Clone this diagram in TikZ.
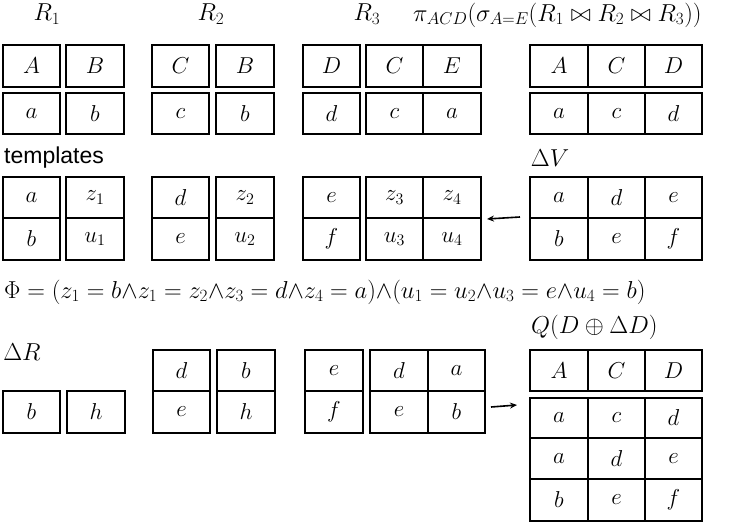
\RequirePackage{fix-cm}
\documentclass[tikz,border=0pt]{standalone}
\usepackage{amsmath,amssymb}
\usepackage{fontspec}
\setsansfont{Liberation Sans}
\usetikzlibrary{arrows.meta}
\newcommand\cellbox[6]{%
  \node[cellst, minimum width={(#4)-(#2)}, minimum height={(#5)-(#3)}] (#1) at ({((#2)+(#4))/2},{((#3)+(#5))/2}) {$#6$};}
\tikzset{
  cellst/.style={draw, line width=1.7pt, inner sep=0pt, font=\fontsize{23}{26}\selectfont},
  lbl/.style={inner sep=0pt, font=\fontsize{24.5}{28}\selectfont},
  arr/.style={-{Stealth[length=7pt,width=6pt]}, line width=1.6pt}
}
\begin{document}
\begin{tikzpicture}[x=1pt,y=-1pt]
\useasboundingbox (0,0) rectangle (740,523);
% labels
\node[lbl] (lr1) at (47,14) {$R_1$};
\node[lbl] (lr2) at (211,14) {$R_2$};
\node[lbl] (lr3) at (367,14) {$R_3$};
\node[lbl, anchor=west] (lpi) at (413,15) {$\pi_{ACD}(\sigma_{A=E}(R_1\bowtie R_2\bowtie R_3))$};
\node[lbl, anchor=west, font=\sffamily\fontsize{23}{26}\selectfont] (ltp) at (4,158) {templates};
\node[lbl] (ldv) at (550,158) {$\Delta V$};
\node[lbl, anchor=west] (lphi) at (4,292) {$\Phi=(z_1=b{\wedge}z_1=z_2{\wedge}z_3=d{\wedge}z_4=a){\wedge}(u_1=u_2{\wedge}u_3=e{\wedge}u_4=b)$};
\node[lbl] (ldr) at (22,352) {$\Delta R$};
\node[lbl, anchor=west] (lq) at (531,327) {$Q(D\oplus\Delta D)$};
% top relations
\cellbox{a1}{3}{45}{60}{87}{A}
\cellbox{a2}{66}{45}{124}{87}{B}
\cellbox{a3}{3}{93}{60}{134}{a}
\cellbox{a4}{66}{93}{124}{134}{b}
\cellbox{b1}{152}{45}{209}{87}{C}
\cellbox{b2}{216}{45}{274}{87}{B}
\cellbox{b3}{152}{93}{209}{134}{c}
\cellbox{b4}{216}{93}{274}{134}{b}
\cellbox{c1}{303}{45}{360}{87}{D}
\cellbox{c2}{366}{45}{423}{87}{C}
\cellbox{c3}{423}{45}{481}{87}{E}
\cellbox{c4}{303}{93}{360}{134}{d}
\cellbox{c5}{366}{93}{423}{134}{c}
\cellbox{c6}{423}{93}{481}{134}{a}
\cellbox{r1}{530}{45}{588}{87}{A}
\cellbox{r2}{588}{45}{645}{87}{C}
\cellbox{r3}{645}{45}{702}{87}{D}
\cellbox{r4}{530}{93}{588}{134}{a}
\cellbox{r5}{588}{93}{645}{134}{c}
\cellbox{r6}{645}{93}{702}{134}{d}
% templates
\cellbox{t1}{3}{177}{60}{218}{a}
\cellbox{t2}{3}{218}{60}{260}{b}
\cellbox{t3}{66}{177}{124}{218}{z_1}
\cellbox{t4}{66}{218}{124}{260}{u_1}
\cellbox{t5}{152}{177}{209}{218}{d}
\cellbox{t6}{152}{218}{209}{260}{e}
\cellbox{t7}{216}{177}{274}{218}{z_2}
\cellbox{t8}{216}{218}{274}{260}{u_2}
\cellbox{t9}{303}{177}{360}{218}{e}
\cellbox{t10}{303}{218}{360}{260}{f}
\cellbox{t11}{366}{177}{423}{218}{z_3}
\cellbox{t12}{366}{218}{423}{260}{u_3}
\cellbox{t13}{423}{177}{481}{218}{z_4}
\cellbox{t14}{423}{218}{481}{260}{u_4}
\cellbox{v1}{530}{177}{588}{218}{a}
\cellbox{v2}{588}{177}{645}{218}{d}
\cellbox{v3}{645}{177}{702}{218}{e}
\cellbox{v4}{530}{218}{588}{260}{b}
\cellbox{v5}{588}{218}{645}{260}{e}
\cellbox{v6}{645}{218}{702}{260}{f}
\coordinate (va) at (520,217);
\coordinate (vb) at (487,219);
\draw[arr] (va) -- (vb);
% bottom
\cellbox{d1}{3}{391}{60}{433}{b}
\cellbox{d2}{67}{391}{125}{433}{h}
\cellbox{e1}{153}{350}{210}{391}{d}
\cellbox{e2}{153}{391}{210}{433}{e}
\cellbox{e3}{217}{350}{275}{391}{b}
\cellbox{e4}{217}{391}{275}{433}{h}
\cellbox{f1}{305}{350}{363}{391}{e}
\cellbox{f2}{305}{391}{363}{433}{f}
\cellbox{f3}{370}{350}{428}{391}{d}
\cellbox{f4}{370}{391}{428}{433}{e}
\cellbox{f5}{428}{350}{485}{391}{a}
\cellbox{f6}{428}{391}{485}{433}{b}
\cellbox{q1}{530}{350}{588}{391}{A}
\cellbox{q2}{588}{350}{645}{391}{C}
\cellbox{q3}{645}{350}{702}{391}{D}
\cellbox{q4}{530}{398}{588}{438}{a}
\cellbox{q5}{588}{398}{645}{438}{c}
\cellbox{q6}{645}{398}{702}{438}{d}
\cellbox{q7}{530}{438}{588}{479}{a}
\cellbox{q8}{588}{438}{645}{479}{d}
\cellbox{q9}{645}{438}{702}{479}{e}
\cellbox{q10}{530}{479}{588}{521}{b}
\cellbox{q11}{588}{479}{645}{521}{e}
\cellbox{q12}{645}{479}{702}{521}{f}
\coordinate (fa) at (491,407);
\coordinate (fb) at (517,405);
\draw[arr] (fa) -- (fb);
\end{tikzpicture}
\end{document}
